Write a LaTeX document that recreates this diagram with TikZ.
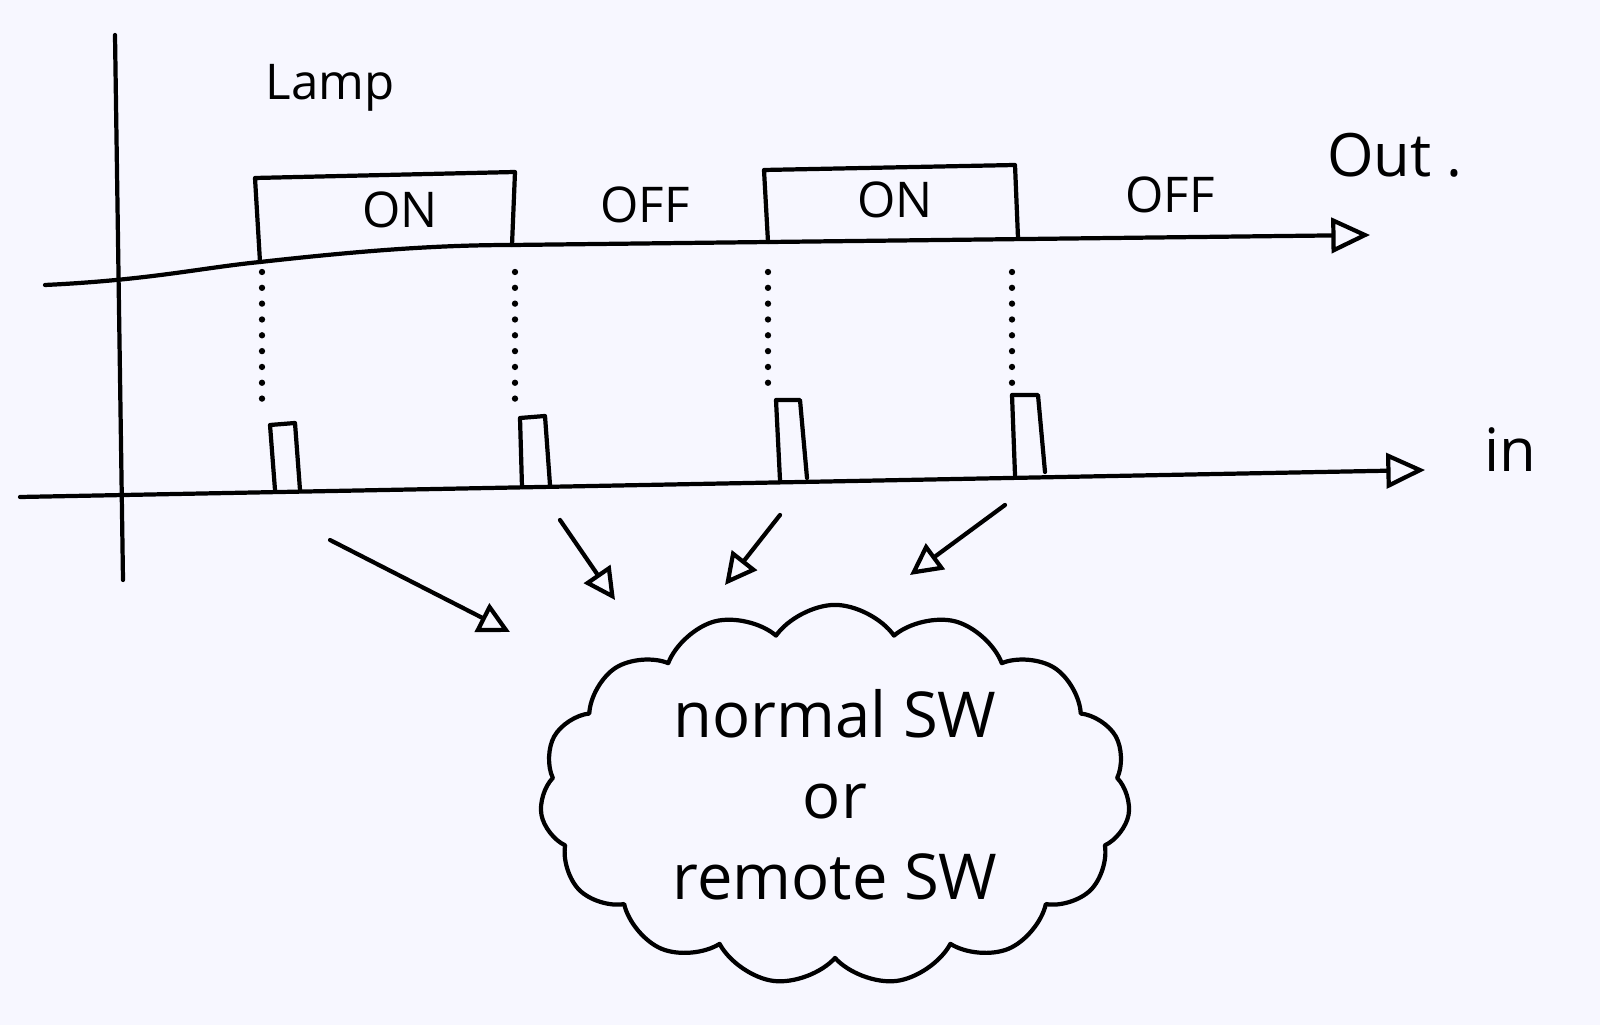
\documentclass[tikz,border=0pt]{standalone}
\usetikzlibrary{arrows.meta,shapes.symbols}
\usepackage{fontspec}
\setmainfont{Open Sans}
\begin{document}
\begin{tikzpicture}[x=0.01cm,y=-0.01cm,line width=1.2pt,line cap=round,line join=round,
  ax/.style={-{Triangle[open,length=11pt,width=10pt]}},
  ar/.style={-{Triangle[open,length=9pt,width=9pt]}},
  dots/.style={line width=1.8pt,dash pattern=on 0pt off 4.5pt},
  lbl/.style={font=\fontsize{14}{14}\selectfont}]
\fill[white!97!blue] (0,0) rectangle (1600,1025);
\useasboundingbox (0,0) rectangle (1600,1025);
% axes
\draw (115,35) -- (123,580);
\coordinate (o0) at (45,285); \coordinate (o1) at (260,262); \coordinate (o2) at (512,245);
\coordinate (oe) at (1370,235);
\draw[ax] (o0) .. controls (150,280) and (200,268) .. (o1) .. controls (350,252) and (430,245) .. (o2) -- (oe);
\coordinate (i0) at (20,497); \coordinate (ie) at (1425,470);
\draw[ax] (i0) -- (ie);
% lamp boxes
\draw (o1) -- (255,178) -- (515,172) -- (o2);
\draw (768,242) -- (764,170) -- (1015,165) -- (1018,238);
\node[lbl] (lamp) at (330,88) {Lamp};
\node[lbl] (on1) at (400,210) {ON};
\node[lbl] (off1) at (645,205) {OFF};
\node[lbl] (on2) at (895,200) {ON};
\node[lbl] (off2) at (1170,195) {OFF};
\node[lbl,font=\fontsize{17}{17}\selectfont] (out) at (1395,155) {Out .};
\node[lbl,font=\fontsize{17}{17}\selectfont] (in) at (1510,450) {in};
% dotted
\foreach \x/\b in {262/412,515/405,768/392,1012/385}
  \draw[dots] (\x,272) -- (\x,\b);
% pulses
\draw (275,490) -- (270,425) -- (295,423) -- (300,490);
\draw (522,487) -- (520,418) -- (545,416) -- (550,485);
\draw (780,480) -- (776,400) -- (800,400) -- (807,478);
\draw (1015,475) -- (1012,395) -- (1038,395) -- (1045,472);
% cloud
\node[cloud,draw,cloud puffs=15,cloud puff arc=110,aspect=1.5,minimum width=5.9cm,minimum height=3.8cm,
  inner sep=0pt,align=center,font=\fontsize{18}{23}\selectfont] (c) at (835,795) {normal SW\\or\\remote SW};
% arrows
\draw[ar] (330,540) -- (510,632);
\draw[ar] (560,520) -- (615,600);
\draw[ar] (780,515) -- (725,585);
\draw[ar] (1005,505) -- (910,575);
\end{tikzpicture}
\end{document}
